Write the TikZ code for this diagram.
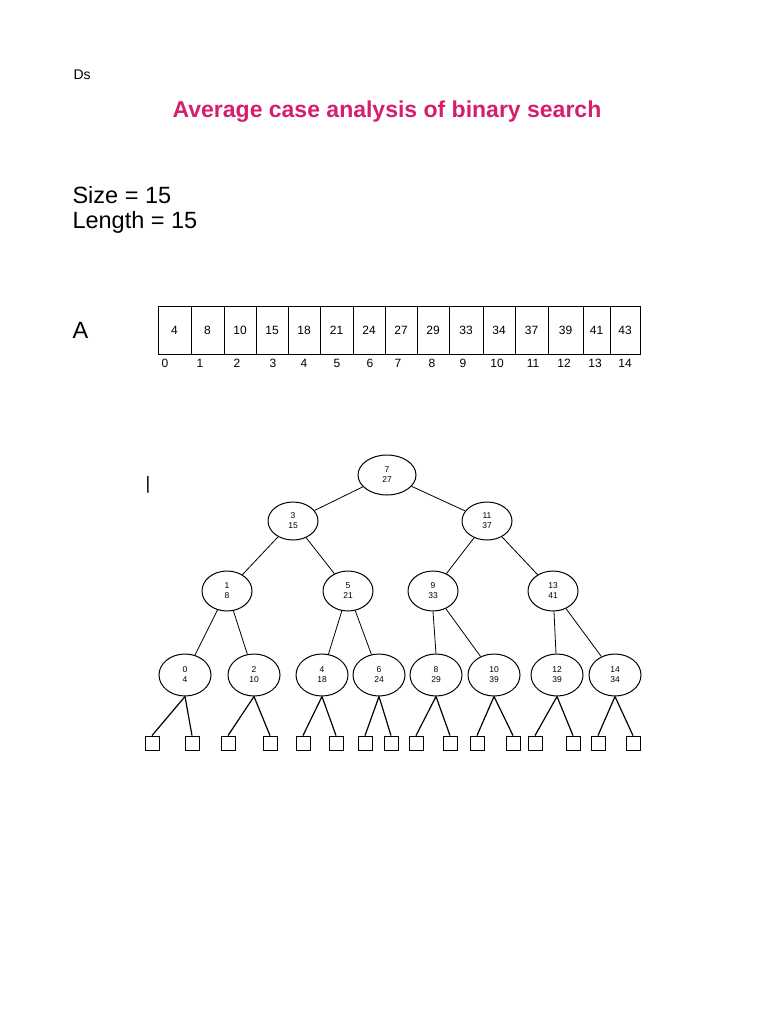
\documentclass[tikz,border=0pt]{standalone}
\usepackage{fontspec}
\setmainfont{Liberation Sans}
\usetikzlibrary{shapes.geometric}
\definecolor{mag}{RGB}{214,30,110}
\begin{document}
\begin{tikzpicture}[x=1pt,y=-1pt,
  tn/.style={draw,ellipse,minimum width=52pt,minimum height=42pt,inner sep=0pt,font=\fontsize{8.5}{10}\selectfont,align=center,line width=1pt},
  lf/.style={draw,rectangle,minimum size=14pt,inner sep=0pt,line width=0.9pt},
  cell/.style={font=\fontsize{12}{14}\selectfont},
  edge/.style={draw,line width=0.8pt}]
\useasboundingbox (0,0) rectangle (768,1024);
\node[anchor=west,font=\fontsize{14}{16}\selectfont] (ds) at (70,75) {Ds};
\node[font=\bfseries\fontsize{23}{26}\selectfont,text=mag] (title) at (387,112) {Average case analysis of binary search};
\node[anchor=west,font=\fontsize{23.5}{26}\selectfont] (size) at (69,195) {Size = 15};
\node[anchor=west,font=\fontsize{23.5}{26}\selectfont] (len) at (69,222) {Length = 15};
\node[anchor=west,font=\fontsize{23.5}{26}\selectfont] (A) at (69,330) {A};
% array
\foreach \l/\r/\v [count=\i from 0] in {158/191/4,191/224/8,224/256/10,256/288/15,288/320/18,320/353/21,353/385/24,385/417/27,417/449/29,449/483/33,483/515/34,515/548/37,548/583/39,583/610/41,610/640/43}{
  \draw[line width=0.9pt] (\l,306) rectangle (\r,354);
  \node[cell] (c\i) at ({(\l+\r)/2},330) {\v};
}
\foreach \x [count=\i from 0] in {165,200,237,273,304,337,370,398,432,463,497,533,564,595,625}{
  \node[cell] (ix\i) at (\x,363) {\i};
}
\node[font=\fontsize{18}{20}\selectfont] (bar) at (148,485) {|};
% tree
\node[tn,minimum width=58pt,minimum height=40pt] (n7) at (387,475) {7\\27};
\node[tn,minimum width=50pt,minimum height=38pt] (n3) at (293,521) {3\\15};
\node[tn,minimum width=50pt,minimum height=38pt] (n11) at (487,521) {11\\37};
\node[tn,minimum width=50pt,minimum height=40pt] (n1) at (227,591) {1\\8};
\node[tn,minimum width=50pt,minimum height=40pt] (n5) at (348,591) {5\\21};
\node[tn,minimum width=50pt,minimum height=40pt] (n9) at (433,591) {9\\33};
\node[tn,minimum width=50pt,minimum height=40pt] (n13) at (553,591) {13\\41};
\foreach \x/\a/\b [count=\i from 0] in {185/0/4,254/2/10,322/4/18,379/6/24,436/8/29,494/10/39,557/12/39,615/14/34}{
  \node[tn] (m\i) at (\x,675) {\a\\\b};
}
\draw[edge] (n7)--(n3); \draw[edge] (n7)--(n11);
\draw[edge] (n3)--(n1); \draw[edge] (n3)--(n5);
\draw[edge] (n11)--(n9); \draw[edge] (n11)--(n13);
\draw[edge] (n1)--(m0); \draw[edge] (n1)--(m1);
\draw[edge] (n5)--(m2); \draw[edge] (n5)--(m3);
\draw[edge] (n9.south)--(m4.north); \draw[edge] (n9)--(m5);
\draw[edge] (n13)--(m6); \draw[edge] (n13)--(m7);
\foreach \x [count=\i from 0] in {152,192,228,270,303,336,365,391,416,450,477,513,535,573,598,633}{
  \node[lf] (l\i) at (\x,743) {};
}
\foreach \i in {0,...,7}{
  \pgfmathtruncatemacro{\a}{2*\i}\pgfmathtruncatemacro{\b}{2*\i+1}
  \draw[edge,line width=1.2pt] (m\i.south)--(l\a.north);
  \draw[edge,line width=1.2pt] (m\i.south)--(l\b.north);
}
\end{tikzpicture}
\end{document}
